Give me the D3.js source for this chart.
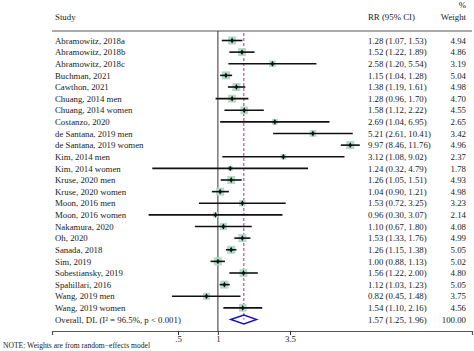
<!DOCTYPE html>
<html>
<head>
<meta charset="utf-8">
<script src="https://cdn.jsdelivr.net/npm/d3@7"></script>
<style>
  body { margin: 0; background: #fff; }
  text { font-family: "Liberation Serif", "Times New Roman", serif; fill: #222; }
</style>
</head>
<body>
<div id="chart"></div>
<script>
// Study rows (forest plot)
let studies = ['Abramowitz, 2018a', 'Abramowitz, 2018b', 'Abramowitz, 2018c', 'Buchman, 2021',
  'Cawthon, 2021', 'Chuang, 2014 men', 'Chuang, 2014 women', 'Costanzo, 2020',
  'de Santana, 2019 men', 'de Santana, 2019 women', 'Kim, 2014 men', 'Kim, 2014 women',
  'Kruse, 2020 men', 'Kruse, 2020 women', 'Moon, 2016 men', 'Moon, 2016 women',
  'Nakamura, 2020', 'Oh, 2020', 'Sanada, 2018', 'Sim, 2019', 'Sobestiansky, 2019',
  'Spahillari, 2016', 'Wang, 2019 men', 'Wang, 2019 women'];
let rr = [1.28, 1.52, 2.58, 1.15, 1.38, 1.28, 1.58, 2.69, 5.21, 9.97, 3.12, 1.24,
  1.26, 1.04, 1.53, 0.96, 1.10, 1.53, 1.26, 1.00, 1.56, 1.12, 0.82, 1.54];
let lower = [1.07, 1.22, 1.20, 1.04, 1.19, 0.96, 1.12, 1.04, 2.61, 8.46, 1.08, 0.32,
  1.05, 0.90, 0.72, 0.30, 0.67, 1.33, 1.15, 0.88, 1.22, 1.03, 0.45, 1.10];
let upper = [1.53, 1.89, 5.54, 1.28, 1.61, 1.70, 2.22, 6.95, 10.41, 11.76, 9.02, 4.79,
  1.51, 1.21, 3.25, 3.07, 1.80, 1.76, 1.38, 1.13, 2.00, 1.23, 1.48, 2.16];
let weights = [4.94, 4.86, 3.19, 5.04, 4.98, 4.70, 4.55, 2.65, 3.42, 4.96, 2.37, 1.78,
  4.93, 4.98, 3.23, 2.14, 4.08, 4.99, 5.05, 5.02, 4.80, 5.05, 3.75, 4.56];

// Pooled estimate
let overallLabel = 'Overall, DL (I² = 96.5%, p < 0.001)';
let overall = {rr: 1.57, lower: 1.25, upper: 1.96, weight: 100.00};

let tickValues = [0.5, 1, 3.5];
let tickLabels = ['.5', '1', '3.5'];

let width = 474;
let height = 351;
let fs = 8.8; // font size
let fmt = d3.format('.2f');

let svg = d3.select('#chart').append('svg')
    .attr('width', width)
    .attr('height', height);

// Log x scale anchored on the tick labels, then stretched across the full panel
let x = d3.scaleLog().domain([0.5, 3.5]).range([178, 290]);
x.domain([x.invert(52), x.invert(472)]).range([52, 472]);

let nRows = studies.length + 1;
let y = d3.scaleLinear().domain([0, nRows - 1]).range([40.5, 319.5]);
let box = d3.scaleSqrt().domain([0, 5.05]).range([0, 8.1]); // box area ~ weight

let rows = studies.map((s, i) => ({
  name: s, rr: rr[i], lower: lower[i], upper: upper[i], weight: weights[i], i: i
}));

// Header
svg.append('text').attr('x', 55).attr('y', 20).attr('font-size', fs).text('Study');
svg.append('text').attr('x', 368).attr('y', 20).attr('font-size', fs).text('RR (95% CI)');
svg.append('text').attr('x', 466).attr('y', 8).attr('font-size', fs)
    .attr('text-anchor', 'end').text('%');
svg.append('text').attr('x', 466).attr('y', 20).attr('font-size', fs)
    .attr('text-anchor', 'end').text('Weight');

svg.append('line')
    .attr('x1', 52).attr('x2', 472).attr('y1', 31).attr('y2', 31)
    .attr('stroke', '#555').attr('stroke-width', 1.2);

// Null line at RR = 1
svg.append('line')
    .attr('x1', x(1)).attr('x2', x(1)).attr('y1', 31).attr('y2', 331)
    .attr('stroke', '#333').attr('stroke-width', 1);

// Overall effect line
svg.append('line')
    .attr('x1', x(overall.rr)).attr('x2', x(overall.rr))
    .attr('y1', 33).attr('y2', y(nRows - 1))
    .attr('stroke', '#9a3592').attr('stroke-width', 1)
    .attr('stroke-dasharray', '3,2');

let g = svg.append('g');

// Weight boxes
g.selectAll('rect.box').data(rows).enter().append('rect')
    .attr('class', 'box')
    .attr('x', d => x(d.rr) - box(d.weight) / 2)
    .attr('y', d => y(d.i) - box(d.weight) / 2)
    .attr('width', d => box(d.weight))
    .attr('height', d => box(d.weight))
    .attr('fill', '#b3dac8');

// Confidence intervals
g.selectAll('line.ci').data(rows).enter().append('line')
    .attr('class', 'ci')
    .attr('x1', d => x(d.lower)).attr('x2', d => x(d.upper))
    .attr('y1', d => y(d.i)).attr('y2', d => y(d.i))
    .attr('stroke', '#111').attr('stroke-width', 1.6);

// Point estimates
g.selectAll('path.pt').data(rows).enter().append('path')
    .attr('class', 'pt')
    .attr('d', d3.symbol().type(d3.symbolDiamond).size(10))
    .attr('transform', d => `translate(${x(d.rr)}, ${y(d.i)})`)
    .attr('fill', '#111');

// Overall diamond
let yo = y(nRows - 1);
svg.append('path')
    .attr('d', `M${x(overall.lower)},${yo} L${x(overall.rr)},${yo - 4.5} L${x(overall.upper)},${yo} L${x(overall.rr)},${yo + 4.5} Z`)
    .attr('fill', 'none').attr('stroke', '#1515c0').attr('stroke-width', 1.4);

// Text columns
let labels = rows.concat([{name: overallLabel, rr: overall.rr, lower: overall.lower,
  upper: overall.upper, weight: overall.weight, i: nRows - 1}]);

svg.selectAll('text.study').data(labels).enter().append('text')
    .attr('class', 'study')
    .attr('x', 55).attr('y', d => y(d.i) + 3.2)
    .attr('font-size', fs)
    .text(d => d.name);

svg.selectAll('text.est').data(labels).enter().append('text')
    .attr('class', 'est')
    .attr('x', 368).attr('y', d => y(d.i) + 3.2)
    .attr('font-size', fs)
    .text(d => `${fmt(d.rr)} (${fmt(d.lower)}, ${fmt(d.upper)})`);

svg.selectAll('text.wt').data(labels).enter().append('text')
    .attr('class', 'wt')
    .attr('x', 466).attr('y', d => y(d.i) + 3.2)
    .attr('font-size', fs)
    .attr('text-anchor', 'end')
    .text(d => fmt(d.weight));

// X axis
let axis = svg.append('g')
    .attr('transform', `translate(0, ${331})`)
    .call(d3.axisBottom(x).tickValues(tickValues)
        .tickFormat((d, i) => tickLabels[i])
        .tickSizeOuter(0).tickSize(4));
axis.select('.domain').attr('stroke', '#555').attr('stroke-width', 1.2);
axis.selectAll('.tick line').attr('stroke', '#333');
axis.selectAll('.tick text')
    .attr('font-family', '"Liberation Serif", serif')
    .attr('font-size', fs).attr('fill', '#222').attr('dy', '0.5em');

svg.append('text')
    .attr('x', 3).attr('y', 348)
    .attr('font-size', 7.6)
    .text('NOTE: Weights are from random\u2212effects model');
</script>
</body>
</html>
